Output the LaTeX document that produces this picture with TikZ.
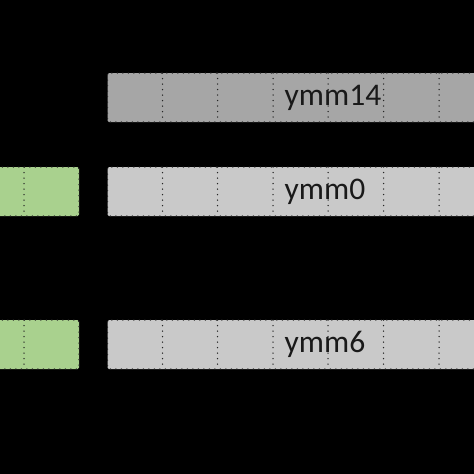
\documentclass[tikz,border=0pt]{standalone}
\usepackage{fontspec}
\setmainfont{Carlito}
\begin{document}
\begin{tikzpicture}[x=1pt,y=-1pt,
  cellline/.style={draw=black!85, line width=1.5pt, line cap=round, dash pattern=on 0pt off 5.5pt},
  barbox/.style={cellline, rounded corners=1.5pt},
  lbl/.style={font=\fontsize{31.5}{31.5}\selectfont, text=black!90, anchor=west, inner sep=0pt}]
\fill[black] (0,0) rectangle (474,474);
\useasboundingbox (0,0) rectangle (474,474);
\begin{scope}
\clip (0,0) rectangle (474,474);
% ymm14 dark bar
\path[barbox, fill=black!35] (107.5,73) rectangle (500,122);
\foreach \x in {162.5,217.5,273,328,383.5,439} \draw[cellline] (\x,73) -- (\x,122);
\node[lbl] (t14) at (284.5,97.5) {ymm14};
% ymm0 bar
\path[barbox, fill=black!21] (107.5,167) rectangle (500,216);
\foreach \x in {162.5,217.5,273,328,383.5,439} \draw[cellline] (\x,167) -- (\x,216);
\node[lbl] (t0) at (284.5,191.5) {ymm0};
% ymm6 bar
\path[barbox, fill=black!21] (107.5,320) rectangle (500,369);
\foreach \x in {162.5,217.5,273,328,383.5,439} \draw[cellline] (\x,320) -- (\x,369);
\node[lbl] (t6) at (284.5,344.5) {ymm6};
% green boxes
\path[barbox, fill={rgb,255:red,169;green,209;blue,142}] (-20,167) rectangle (79,216);
\draw[cellline] (24,167) -- (24,216);
\path[barbox, fill={rgb,255:red,169;green,209;blue,142}] (-20,320) rectangle (79,369);
\draw[cellline] (24,320) -- (24,369);
\end{scope}
\end{tikzpicture}
\end{document}
